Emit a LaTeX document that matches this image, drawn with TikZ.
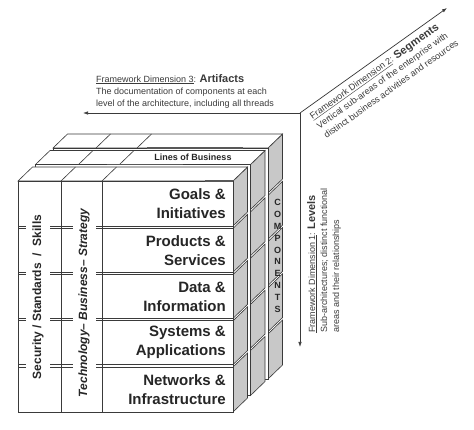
\documentclass[tikz,border=0pt]{standalone}
\usepackage{fontspec}
\setmainfont{Liberation Sans}
\usetikzlibrary{arrows.meta}
\definecolor{sidegray}{HTML}{C8C8C8}
\definecolor{inkgray}{HTML}{3A3A3A}

\begin{document}
\begin{tikzpicture}
  [x=1pt, y=-1pt,
  face/.style={draw=inkgray, fill=white, line width=0.6pt},
  side/.style={draw=inkgray, fill=sidegray, line width=0.6pt},
  edge/.style={draw=inkgray, line width=0.6pt},
  ridge/.style={draw=inkgray!85, line width=1.4pt},
  axis/.style={inkgray, line width=0.7pt, -{Latex[length=5pt,width=3.5pt]}},
  level/.style={font=\bfseries\fontsize{15}{19}\selectfont, align=right, anchor=east, inner sep=0pt, text=black!85},
  column/.style={font=\bfseries\fontsize{12}{14}\selectfont, rotate=90, inner sep=0pt, text=black!85},
  caption/.style={font=\fontsize{9}{12}\selectfont, align=left, inner sep=0pt, text=inkgray}]

  \useasboundingbox (0,0) rectangle (474,430);

  % the three slabs, back one first
  \foreach \k in {2,1,0} {
    \begin{scope}[shift={(17.5*\k,-16.5*\k)}]
      % right sides of the level boxes
      \foreach \t/\b in {181/226,228.4/272.2,274.6/318.4,320.8/364.6,367/412}
        \filldraw[side] (233,\t) -- (233,\b) -- ++(14.5,-14) -- ++(0,\t-\b) -- cycle;
      % top
      \filldraw[face] (18,181) -- (233,181) -- ++(14.5,-14) -- (32.5,167) -- cycle;
      \draw[edge] (61,181) -- ++(14.5,-14) (102,181) -- ++(14.5,-14);
      % front
      \filldraw[face] (18,181) rectangle (233,412);
    \end{scope}
  }

  % front slab: columns and level boxes
  \draw[edge] (61,181) -- (61,412) (102,181) -- (102,412);
  \foreach \t/\b in {181/226,228.4/272.2,274.6/318.4,320.8/364.6,367/412}
    \filldraw[face] (102,\t) rectangle (233,\b);
  \foreach \y in {226,228.4,272.2,274.6,318.4,320.8,364.6,367}
    \draw[edge] (18,\y) -- (26,\y) (50,\y) -- (73,\y) (96,\y) -- (102,\y);

  % dark ridges on the top
  \draw[ridge] (205,181) -- (233,181);
  \draw[ridge] (107,164.5) -- (183,164.5);
  \draw[ridge] (147,148) -- (243,148);

  % labels on the cube
  \node[level] (goals) at (226,203.5) {Goals \&\\Initiatives};
  \node[level] (products) at (226,250.3) {Products \&\\Services};
  \node[level] (data) at (226,296.5) {Data \&\\Information};
  \node[level] (systems) at (226,342.7) {Systems \&\\Applications};
  \node[level] (networks) at (226,389.5) {Networks \&\\Infrastructure};

  \node[column] (security) at (38,297) {Security / Standards \ / \ Skills};
  \node[column, font=\bfseries\itshape\fontsize{12}{14}\selectfont] (strategy) at (84,303) {Technology– Business– Strategy};

  \node[font=\bfseries\fontsize{9}{11}\selectfont, inner sep=0pt, text=black!85] (business) at (193,157) {Lines of Business};
  \node[font=\bfseries\fontsize{9}{11.8}\selectfont, align=center, inner sep=0pt, text=black!85] (components) at (277.5,256) {C\\O\\M\\P\\O\\N\\E\\N\\T\\S};

  % the three dimensions
  \coordinate (hub) at (300,113);
  \coordinate (artifactsend) at (83,113);
  \coordinate (segmentsend) at (447,8);
  \coordinate (levelsend) at (300,347);

  \draw[axis] (hub) -- (artifactsend);
  \draw[axis] (hub) -- (segmentsend);
  \draw[axis] (hub) -- (levelsend);

  \node[caption, anchor=north west] (artifacts) at (96,74)
    {\underline{Framework Dimension 3}: {\bfseries\fontsize{11}{12}\selectfont Artifacts}\\
     The documentation of components at each\\
     level of the architecture, including all threads};
  \node[caption, anchor=north west, rotate=35.5] (segments) at (308,113)
    {\underline{Framework Dimension 2}: {\bfseries\fontsize{11}{12}\selectfont Segments}\\
     Vertical sub-areas of the enterprise with\\
     distinct business activities and resources};
  \node[caption, anchor=north west, rotate=90] (levels) at (307,333)
    {\underline{Framework Dimension 1}: {\bfseries\fontsize{11}{12}\selectfont Levels}\\
     Sub-architectures; distinct functional\\
     areas and their relationships};
\end{tikzpicture}
\end{document}
